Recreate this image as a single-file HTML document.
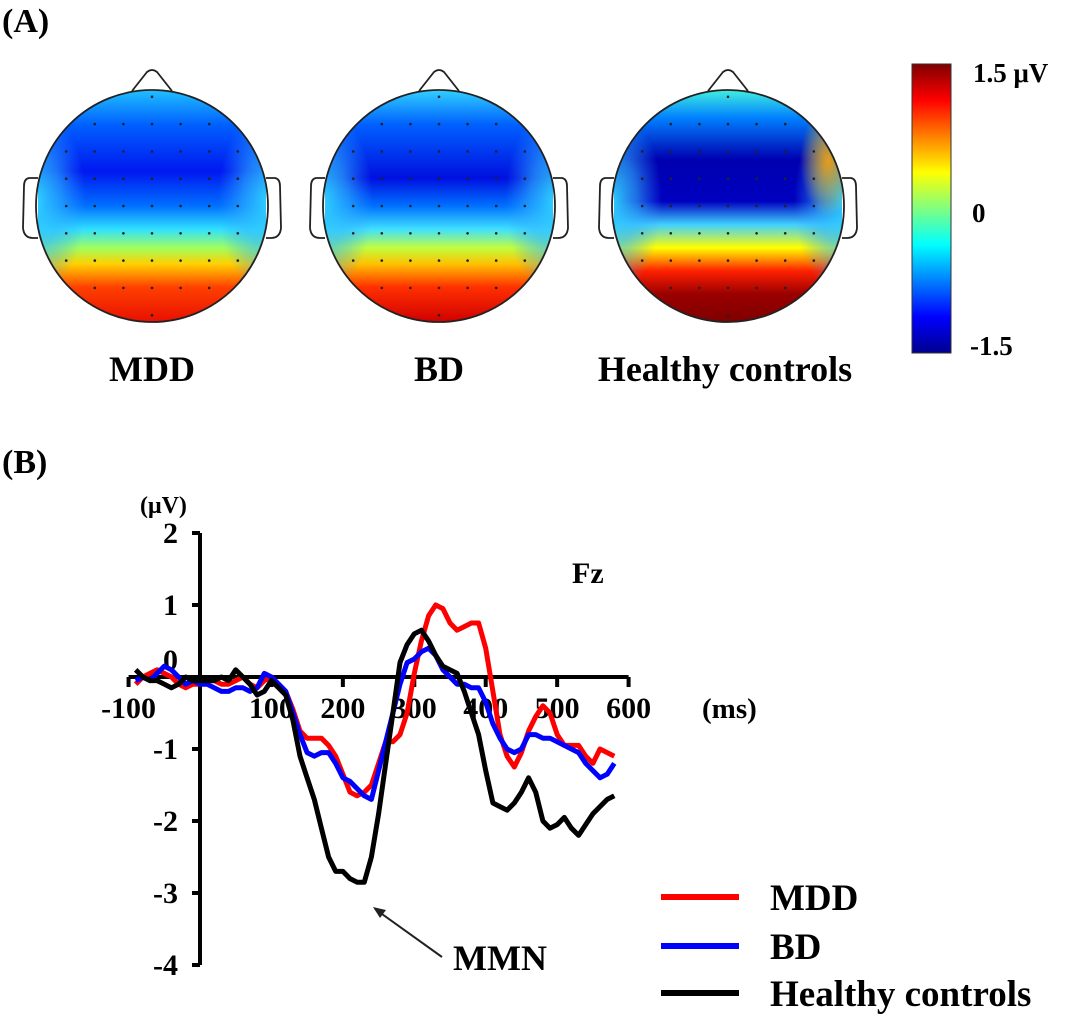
<!DOCTYPE html>
<html><head><meta charset="utf-8"><style>
body{margin:0;background:#fff;width:1068px;height:1021px;overflow:hidden}
svg text{font-family:"Liberation Serif",serif;font-weight:bold;fill:#000}
</style></head><body>
<svg id="fig" width="1068" height="1021" viewBox="0 0 1068 1021" xmlns="http://www.w3.org/2000/svg">
<defs>
<linearGradient id="jet" x1="0" y1="1" x2="0" y2="0">
<stop offset="0" stop-color="#00008f"/><stop offset="0.125" stop-color="#0000ff"/><stop offset="0.375" stop-color="#00ffff"/><stop offset="0.5" stop-color="#80ff80"/><stop offset="0.625" stop-color="#ffff00"/><stop offset="0.875" stop-color="#ff0000"/><stop offset="1" stop-color="#800000"/>
</linearGradient>
<linearGradient id="g1" x1="0" y1="0" x2="0" y2="1">
<stop offset="0" stop-color="#20c0ff"/><stop offset="0.15" stop-color="#0060ff"/><stop offset="0.35" stop-color="#0018f0"/><stop offset="0.5" stop-color="#0070ff"/><stop offset="0.6" stop-color="#30e0ff"/><stop offset="0.68" stop-color="#a0ff60"/><stop offset="0.75" stop-color="#ffd000"/><stop offset="0.85" stop-color="#ff4000"/><stop offset="1" stop-color="#e81000"/>
</linearGradient>
<linearGradient id="g2" x1="0" y1="0" x2="0" y2="1">
<stop offset="0" stop-color="#30d0ff"/><stop offset="0.15" stop-color="#0060ff"/><stop offset="0.38" stop-color="#0010e0"/><stop offset="0.5" stop-color="#0070ff"/><stop offset="0.6" stop-color="#40e0ff"/><stop offset="0.68" stop-color="#c0ff40"/><stop offset="0.75" stop-color="#ffc000"/><stop offset="0.85" stop-color="#ff3000"/><stop offset="1" stop-color="#d00000"/>
</linearGradient>
<linearGradient id="g3" x1="0" y1="0" x2="0" y2="1">
<stop offset="0" stop-color="#40f0e0"/><stop offset="0.12" stop-color="#0080ff"/><stop offset="0.3" stop-color="#0000b0"/><stop offset="0.48" stop-color="#0000c0"/><stop offset="0.58" stop-color="#40d0ff"/><stop offset="0.68" stop-color="#ffff00"/><stop offset="0.78" stop-color="#ff2000"/><stop offset="0.88" stop-color="#9a0000"/><stop offset="1" stop-color="#800000"/>
</linearGradient>
<radialGradient id="cyanfade"><stop offset="0" stop-color="#30d8ff" stop-opacity="0.95"/><stop offset="0.5" stop-color="#30b8ff" stop-opacity="0.6"/><stop offset="1" stop-color="#30a0ff" stop-opacity="0"/></radialGradient>
<radialGradient id="orfade"><stop offset="0" stop-color="#ffa000" stop-opacity="0.9"/><stop offset="1" stop-color="#ffd000" stop-opacity="0"/></radialGradient>
</defs>
<text x="2" y="32" font-size="34">(A)</text>
<g id="heads"></g>
<rect x="912" y="64" width="39" height="289" fill="url(#jet)" stroke="#333" stroke-width="1"/>
<text x="973" y="82" font-size="27">1.5 μV</text>
<text x="972" y="222" font-size="27">0</text>
<text x="970" y="355" font-size="27">-1.5</text>
<text x="152" y="381" font-size="36" text-anchor="middle">MDD</text>
<text x="439" y="381" font-size="36" text-anchor="middle">BD</text>
<text x="725" y="381" font-size="36" text-anchor="middle">Healthy controls</text>
<text x="2" y="473" font-size="34">(B)</text>
<text x="140" y="513" font-size="24">(μV)</text>
<text x="572" y="583" font-size="30">Fz</text>
<text x="702" y="718" font-size="29">(ms)</text>
<g id="chart"></g>
<line x1="442" y1="957" x2="375" y2="909" stroke="#222" stroke-width="2"/>
<path d="M373,907 L386,910 L380,918 Z" fill="#222"/>
<text x="453" y="970" font-size="36">MMN</text>
<line x1="661" y1="897" x2="739" y2="897" stroke="#ff0000" stroke-width="6"/>
<text x="770" y="910" font-size="37">MDD</text>
<line x1="661" y1="946" x2="739" y2="946" stroke="#0000ff" stroke-width="6"/>
<text x="770" y="959" font-size="37">BD</text>
<line x1="661" y1="993" x2="739" y2="993" stroke="#000" stroke-width="6"/>
<text x="770" y="1006" font-size="37">Healthy controls</text>
</svg>
<script>
const times=[-90,-80,-70,-60,-50,-40,-30,-20,-10,0,10,20,30,40,50,60,70,80,90,100,110,120,130,140,150,160,170,180,190,200,210,220,230,240,250,260,270,280,290,300,310,320,330,340,350,360,370,380,390,400,410,420,430,440,450,460,470,480,490,500,510,520,530,540,550,560,570,580];
const mdd=[-0.1,0,0.05,0.1,0.05,0,-0.1,-0.15,-0.1,-0.1,-0.05,-0.05,-0.1,-0.1,-0.05,0,-0.1,-0.15,-0.05,0,-0.1,-0.2,-0.45,-0.75,-0.85,-0.85,-0.85,-0.95,-1.1,-1.35,-1.6,-1.65,-1.6,-1.5,-1.2,-0.9,-0.9,-0.8,-0.5,0.05,0.5,0.85,1.0,0.95,0.75,0.65,0.7,0.75,0.75,0.4,-0.2,-0.8,-1.1,-1.25,-1.05,-0.75,-0.55,-0.4,-0.5,-0.8,-0.95,-0.95,-0.95,-1.1,-1.2,-1.0,-1.05,-1.1];
const bd=[-0.05,0,-0.05,0.05,0.15,0.1,0,-0.1,-0.05,-0.1,-0.1,-0.15,-0.2,-0.2,-0.15,-0.15,-0.2,-0.15,0.05,0,-0.1,-0.2,-0.5,-0.8,-1.05,-1.1,-1.05,-1.05,-1.2,-1.4,-1.45,-1.55,-1.65,-1.7,-1.3,-0.9,-0.5,-0.1,0.2,0.25,0.35,0.4,0.3,0.1,0,-0.1,-0.1,-0.15,-0.15,-0.35,-0.65,-0.85,-1.0,-1.05,-1.0,-0.8,-0.8,-0.85,-0.85,-0.9,-0.95,-1.0,-1.05,-1.2,-1.3,-1.4,-1.35,-1.2];
const hc=[0.1,0,-0.05,-0.05,-0.1,-0.15,-0.1,0,-0.05,-0.05,-0.05,-0.05,0,-0.05,0.1,0,-0.1,-0.25,-0.2,-0.05,-0.15,-0.25,-0.6,-1.1,-1.4,-1.7,-2.1,-2.5,-2.7,-2.7,-2.8,-2.85,-2.85,-2.5,-1.9,-1.2,-0.5,0.2,0.45,0.6,0.65,0.5,0.3,0.15,0.1,0.05,-0.2,-0.5,-0.8,-1.3,-1.75,-1.8,-1.85,-1.75,-1.6,-1.4,-1.6,-2.0,-2.1,-2.05,-1.95,-2.1,-2.2,-2.05,-1.9,-1.8,-1.7,-1.65];
const xTicks=[-100,100,200,300,400,500,600];
const yTicks=[2,1,0,-1,-2,-3,-4];
const NS='http://www.w3.org/2000/svg';
const xs=t=>200+0.7143*t, ys=v=>677-72*v;
function mk(tag,attrs,parent,txt){const e=document.createElementNS(NS,tag);for(const k in attrs)e.setAttribute(k,attrs[k]);if(txt!==undefined)e.textContent=txt;parent.appendChild(e);return e;}
const ch=document.getElementById('chart');
const xa=mk('line',{x1:xs(-100),y1:ys(0),x2:xs(600),y2:ys(0),stroke:'#000','stroke-width':4},ch);


const ya=mk('line',{x1:200,y1:ys(2),x2:200,y2:ys(-4),stroke:'#000','stroke-width':4},ch);


xTicks.forEach(t=>{mk('line',{x1:xs(t),y1:ys(0),x2:xs(t),y2:ys(0)+10,stroke:'#000','stroke-width':4},ch);
const l=mk('text',{x:xs(t),y:ys(0)+41,'font-size':30,'text-anchor':'middle'},ch,t);

});
yTicks.forEach(v=>{mk('line',{x1:192,y1:ys(v),x2:200,y2:ys(v),stroke:'#000','stroke-width':4},ch);
const l=mk('text',{x:178,y:ys(v)+(v===0?-7:10),'font-size':30,'text-anchor':'end'},ch,v);

});
[[mdd,'#ff0000','line-mdd'],[bd,'#0000ff','line-bd'],[hc,'#000000','line-healthy-controls']].forEach(([d,c,n])=>{
const p=mk('polyline',{points:times.map((t,i)=>xs(t).toFixed(1)+','+ys(d[i]).toFixed(1)).join(' '),fill:'none',stroke:c,'stroke-width':5,'stroke-linejoin':'round'},ch);

});
const hg=document.getElementById('heads');
const heads=[[152,'g1','topomap-mdd'],[439,'g2','topomap-bd'],[728,'g3','topomap-healthy-controls']];
heads.forEach(([cx,g,n],k)=>{const cy=206,r=116;
const grp=mk('g',{},hg);


const cp=mk('clipPath',{id:'cp'+k},grp);mk('circle',{cx:cx,cy:cy,r:r},cp);
const inner=mk('g',{'clip-path':'url(#cp'+k+')'},grp);
mk('rect',{x:cx-r,y:cy-r,width:2*r,height:2*r,fill:'url(#'+g+')'},inner);
mk('ellipse',{cx:cx-r,cy:cy-5,rx:50,ry:95,fill:'url(#cyanfade)'},inner);
mk('ellipse',{cx:cx+r,cy:cy-5,rx:50,ry:95,fill:'url(#cyanfade)'},inner);
if(k==2){mk('ellipse',{cx:cx+100,cy:cy-45,rx:28,ry:55,fill:'url(#orfade)'},inner);}
const ex=cx-r, ex2=cx+r;
mk('path',{d:`M${ex+2},${cy-28} L${ex-7},${cy-28} Q${ex-12},${cy-27} ${ex-12},${cy-20} L${ex-13},${cy+22} Q${ex-12},${cy+32} ${ex-3},${cy+32} L${ex+2},${cy+32}`,fill:'#fff',stroke:'#222','stroke-width':1.8},grp);
mk('path',{d:`M${ex2-2},${cy-28} L${ex2+7},${cy-28} Q${ex2+12},${cy-27} ${ex2+12},${cy-20} L${ex2+13},${cy+22} Q${ex2+12},${cy+32} ${ex2+3},${cy+32} L${ex2-2},${cy+32}`,fill:'#fff',stroke:'#222','stroke-width':1.8},grp);
mk('path',{d:`M${cx-20},${cy-r+1} L${cx-5},${cy-r-18} Q${cx},${cy-r-22} ${cx+5},${cy-r-18} L${cx+20},${cy-r+1}`,fill:'#fff',stroke:'#222','stroke-width':1.8},grp);
mk('circle',{cx:cx,cy:cy,r:r,fill:'none',stroke:'#222','stroke-width':1.8},grp);
for(let yy=-4;yy<=4;yy++){for(let xx=-4;xx<=4;xx++){const px=cx+xx*28.6,py=cy+yy*27.3;if(Math.hypot(px-cx,py-cy)<r-4)mk('circle',{cx:px,cy:py,r:1.3,fill:'#222'},grp);}}
});
</script>
</body></html>
